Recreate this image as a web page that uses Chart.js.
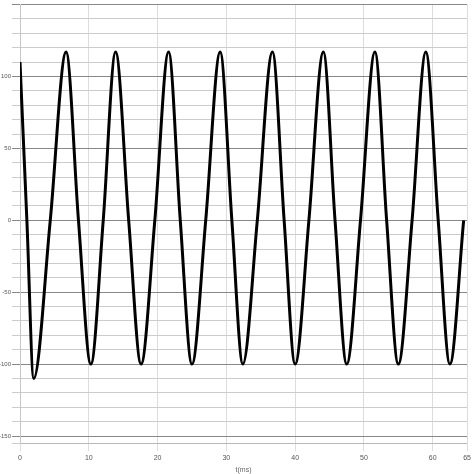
<!DOCTYPE html>
<html><head><meta charset="utf-8">
<script src="https://cdn.jsdelivr.net/npm/chart.js@4/dist/chart.umd.min.js"></script>
<style>html,body{margin:0;background:#fff}#wrap{width:474px;height:474px}</style>
</head><body><div id="wrap"><canvas id="c"></canvas></div>
<script>
// time (ms) and value
const times = [0,1.0,2.0,4.4,6.7,8.5,10.3,12.1,13.9,15.8,17.6,19.6,21.6,23.3,25.0,27.0,29.1,30.8,32.4,34.5,36.7,38.4,40.0,42.0,44.1,45.8,47.5,49.5,51.6,53.3,55.0,57.0,59.0,60.8,62.5,64.5];
const values = [110,0,-110,0,117,0,-100,0,117,0,-100,0,117,0,-100,0,117,0,-100,0,117,0,-100,0,117,0,-100,0,117,0,-100,0,117,0,-100,0];
const yLabels = {100:'100', 50:'50', 0:'0', '-50':'-50', '-100':'-100', '-150':'-150'};

const pts = times.map((t, i) => ({x: t, y: values[i]}));
new Chart(document.getElementById('c'), {
    type: 'line',
    data: { datasets: [{ data: pts, borderColor: '#000', borderWidth: 3, pointRadius: 0, cubicInterpolationMode: 'monotone' }] },
    options: {
        responsive: true, maintainAspectRatio: false, animation: false,
        layout: { padding: 0 },
        plugins: { legend: { display: false }, tooltip: { enabled: false } },
        scales: {
            x: {
                type: 'linear', min: 0, max: 65,
                ticks: { stepSize: 10, font: { size: 7 }, color: '#555' },
                grid: { color: '#ddd' },
                title: { display: true, text: 't(ms)', font: { size: 7 }, padding: 0 }
            },
            y: {
                min: -155, max: 150,
                afterFit: s => { s.width = 20; },
                ticks: { stepSize: 10, font: { size: 6 }, color: '#555', padding: 1,
                    callback: v => yLabels[v] !== undefined ? yLabels[v] : '' },
                grid: { color: ctx => ctx.tick && ctx.tick.value % 50 === 0 ? '#888' : '#ccc', borderDash: [2, 2] },
                title: { display: false }
            }
        }
    }
});
</script></body></html>
